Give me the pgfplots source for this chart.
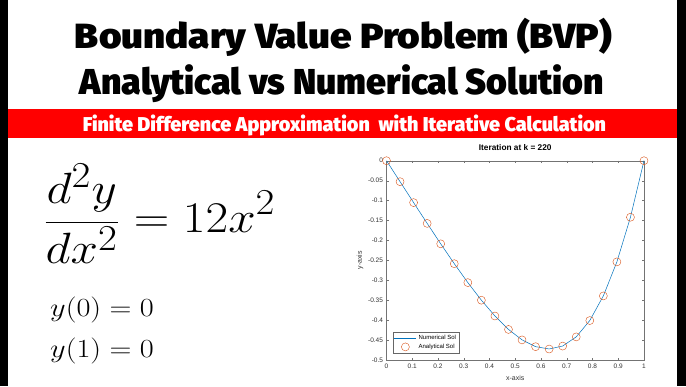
\documentclass[border=0pt]{standalone}
\usepackage{fontspec}
\usepackage{pgfplots}
\usepackage{pgfplotstable}
\pgfplotsset{compat=1.18}
\newfontfamily\heavy{Fira Sans Black}
\newfontfamily\arialf{Liberation Sans}
\definecolor{mblue}{rgb}{0,0.447,0.741}
\definecolor{morange}{rgb}{0.85,0.325,0.098}
\pgfplotstableread{
x y
0 0
0.052632 -0.052624
0.105263 -0.105140
0.157895 -0.157273
0.210526 -0.208562
0.263158 -0.258362
0.315789 -0.305845
0.368421 -0.349997
0.421053 -0.389623
0.473684 -0.423339
0.526316 -0.449583
0.578947 -0.466601
0.631579 -0.472464
0.684211 -0.465052
0.736842 -0.442063
0.789474 -0.401010
0.842105 -0.339224
0.894737 -0.253850
0.947368 -0.141849
1 0
}\analytic
\pgfplotstableread{
x y
0 0
0.052632 -0.052610
0.105263 -0.105110
0.157895 -0.157230
0.210526 -0.208500
0.263158 -0.258290
0.315789 -0.305760
0.368421 -0.349900
0.421053 -0.389520
0.473684 -0.423230
0.526316 -0.449470
0.578947 -0.466490
0.631579 -0.472360
0.684211 -0.464960
0.736842 -0.441980
0.789474 -0.400940
0.842105 -0.339170
0.894737 -0.253810
0.947368 -0.141830
1 0
}\numeric
\begin{document}
\begin{tikzpicture}
\fill[white] (0pt,0pt) rectangle (686pt,386pt);
\fill[black] (0pt,0pt) rectangle (8pt,386pt);
\fill[black] (677pt,0pt) rectangle (686pt,386pt);
\fill[red] (8pt,248pt) rectangle (677pt,277pt);
\node[anchor=base,inner sep=0] at (343.5pt,337pt) {\resizebox{537pt}{\height}{\heavy\fontsize{35}{35}\selectfont Boundary Value Problem (BVP)}};
\node[anchor=base,inner sep=0] at (342pt,291pt) {\resizebox{524pt}{\height}{\heavy\fontsize{36}{36}\selectfont Analytical vs Numerical Solution}};
\node[anchor=base,inner sep=0,text=white] at (344.5pt,254pt) {\resizebox{523pt}{\height}{\heavy\fontsize{20}{20}\selectfont Finite Difference Approximation\ \ with Iterative Calculation}};
\node[anchor=base west,inner sep=0] at (43pt,153pt) {\scalebox{1.98}[1.76]{\fontsize{24.88}{30}\selectfont $\displaystyle \frac{d^2y}{dx^2} = 12x^2$}};
\node[anchor=base west,inner sep=0] at (50pt,69pt) {\scalebox{1.22}[1.05]{\fontsize{24.88}{30}\selectfont $y(0) = 0$}};
\node[anchor=base west,inner sep=0] at (50pt,28pt) {\scalebox{1.22}[1.05]{\fontsize{24.88}{30}\selectfont $y(1) = 0$}};
\begin{axis}[
  at={(386.5pt,26pt)}, anchor=south west,
  scale only axis, width=257.5pt, height=199.3pt,
  xmin=0, xmax=1, ymin=-0.5, ymax=0,
  xtick={0,0.1,0.2,0.3,0.4,0.5,0.6,0.7,0.8,0.9,1},
  xticklabels={0,0.1,0.2,0.3,0.4,0.5,0.6,0.7,0.8,0.9,1},
  ytick={-0.5,-0.45,-0.4,-0.35,-0.3,-0.25,-0.2,-0.15,-0.1,-0.05,0},
  yticklabels={-0.5,-0.45,-0.4,-0.35,-0.3,-0.25,-0.2,-0.15,-0.1,-0.05,0},
  tick align=inside, major tick length=2.5pt,
  axis line style={black!55}, tick style={black!55},
  ticklabel style={font=\arialf\fontsize{6.5}{7}\selectfont, text=black!80},
  xlabel={x-axis}, ylabel={y-axis},
  label style={font=\arialf\fontsize{7}{8}\selectfont, text=black!80},
  xlabel style={at={(axis description cs:0.5,-0.09)}, anchor=center},
  ylabel style={at={(axis description cs:-0.103,0.5)}, anchor=center},
  title={Iteration at k = 220},
  title style={font=\arialf\bfseries\fontsize{8.3}{9}\selectfont, at={(axis description cs:0.5,1.034)}, anchor=center},
  legend style={at={(0.025,0.035)}, anchor=south west, font=\arialf\fontsize{6}{6.5}\selectfont, draw=black!60, inner sep=1pt, row sep=-1.5pt, cells={anchor=west}},
  legend image code/.code={\draw[mark repeat=2,mark phase=2,#1] plot coordinates {(0pt,0pt) (11pt,0pt) (22pt,0pt)};},
]
\addplot[color=mblue, line width=0.5pt] table {\numeric};
\addlegendentry{Numerical Sol}
\addplot[only marks, mark=o, mark size=4pt, color=morange, line width=0.4pt] table {\analytic};
\addlegendentry{Analytical Sol}
\end{axis}
\end{tikzpicture}
\end{document}
